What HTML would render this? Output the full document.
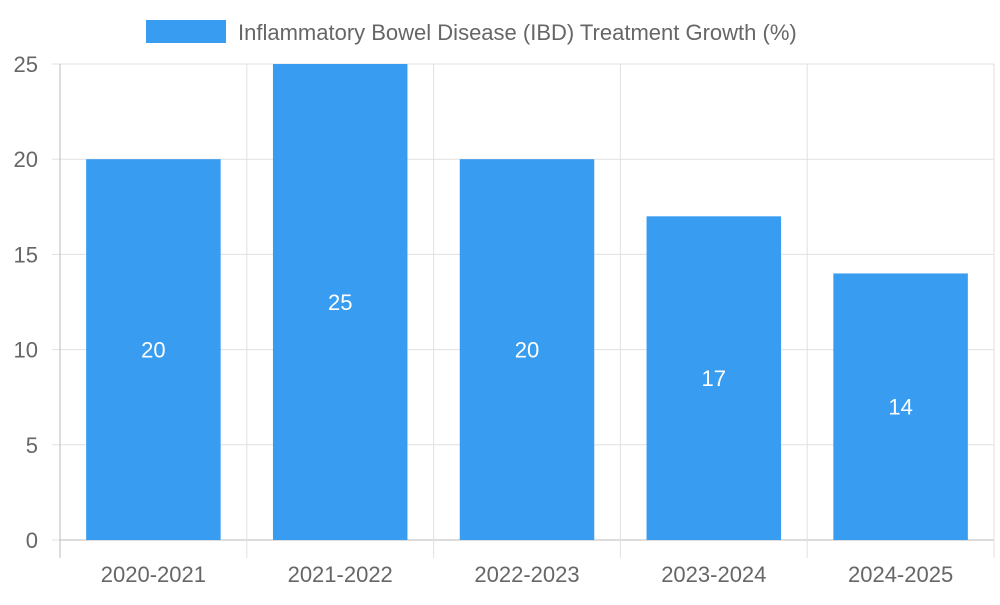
<!DOCTYPE html>
<html><head><meta charset="utf-8"><style>
body{margin:0;background:#fff;font-family:"Liberation Sans",sans-serif;}
</style></head><body>
<svg id="chart" width="1000" height="600" xmlns="http://www.w3.org/2000/svg"></svg>
<script>
const categories=["2020-2021","2021-2022","2022-2023","2023-2024","2024-2025"];
const values=[20,25,20,17,14];
const yTicks=[0,5,10,15,20,25];
const legendLabel="Inflammatory Bowel Disease (IBD) Treatment Growth (%)";
const svg=document.getElementById('chart');
const NS="http://www.w3.org/2000/svg";
const L=60,R=994,T=64,B=540,yMax=25;
const y=v=>B-(v/yMax)*(B-T);
const band=(R-L)/categories.length;
const x=i=>L+band*i;
function mk(tag,attrs,txt){const e=document.createElementNS(NS,tag);for(const k in attrs)e.setAttribute(k,attrs[k]);if(txt!==undefined)e.textContent=txt;svg.appendChild(e);return e;}
// grid
yTicks.forEach(t=>{
 const g=mk('line',{x1:L,x2:R,y1:y(t),y2:y(t),stroke:t===0?'#bbb':'#e0e0e0','stroke-width':1});
 
 
 const tk=mk('line',{x1:L-8,x2:L,y1:y(t),y2:y(t),stroke:'#e0e0e0'});
 
 
 const lb=mk('text',{x:L-22,y:y(t)+8,'text-anchor':'end','font-size':22,fill:'#666'},t);
 
 
});
for(let i=0;i<=categories.length;i++){
 const g=mk('line',{x1:x(i),x2:x(i),y1:T,y2:B+18,stroke:i===0?'#bbb':'#e0e0e0'});
 
 
}
categories.forEach((c,i)=>{
 const bw=band*0.72,bx=x(i)+(band-bw)/2;
 const r=mk('rect',{x:bx,y:y(values[i]),width:bw,height:B-y(values[i]),fill:'#389cf0'});
 
 
 const v=mk('text',{x:x(i)+band/2,y:(y(values[i])+B)/2+8,'text-anchor':'middle','font-size':22,fill:'#fff'},values[i]);
 
 
 const lb=mk('text',{x:x(i)+band/2,y:582,'text-anchor':'middle','font-size':22,fill:'#666'},c);
 
 
});
const lbox=mk('rect',{x:146,y:20,width:80,height:23,fill:'#389cf0'});


const lt=mk('text',{x:238,y:40,'font-size':22,fill:'#666'},legendLabel);


</script>
</body></html>
